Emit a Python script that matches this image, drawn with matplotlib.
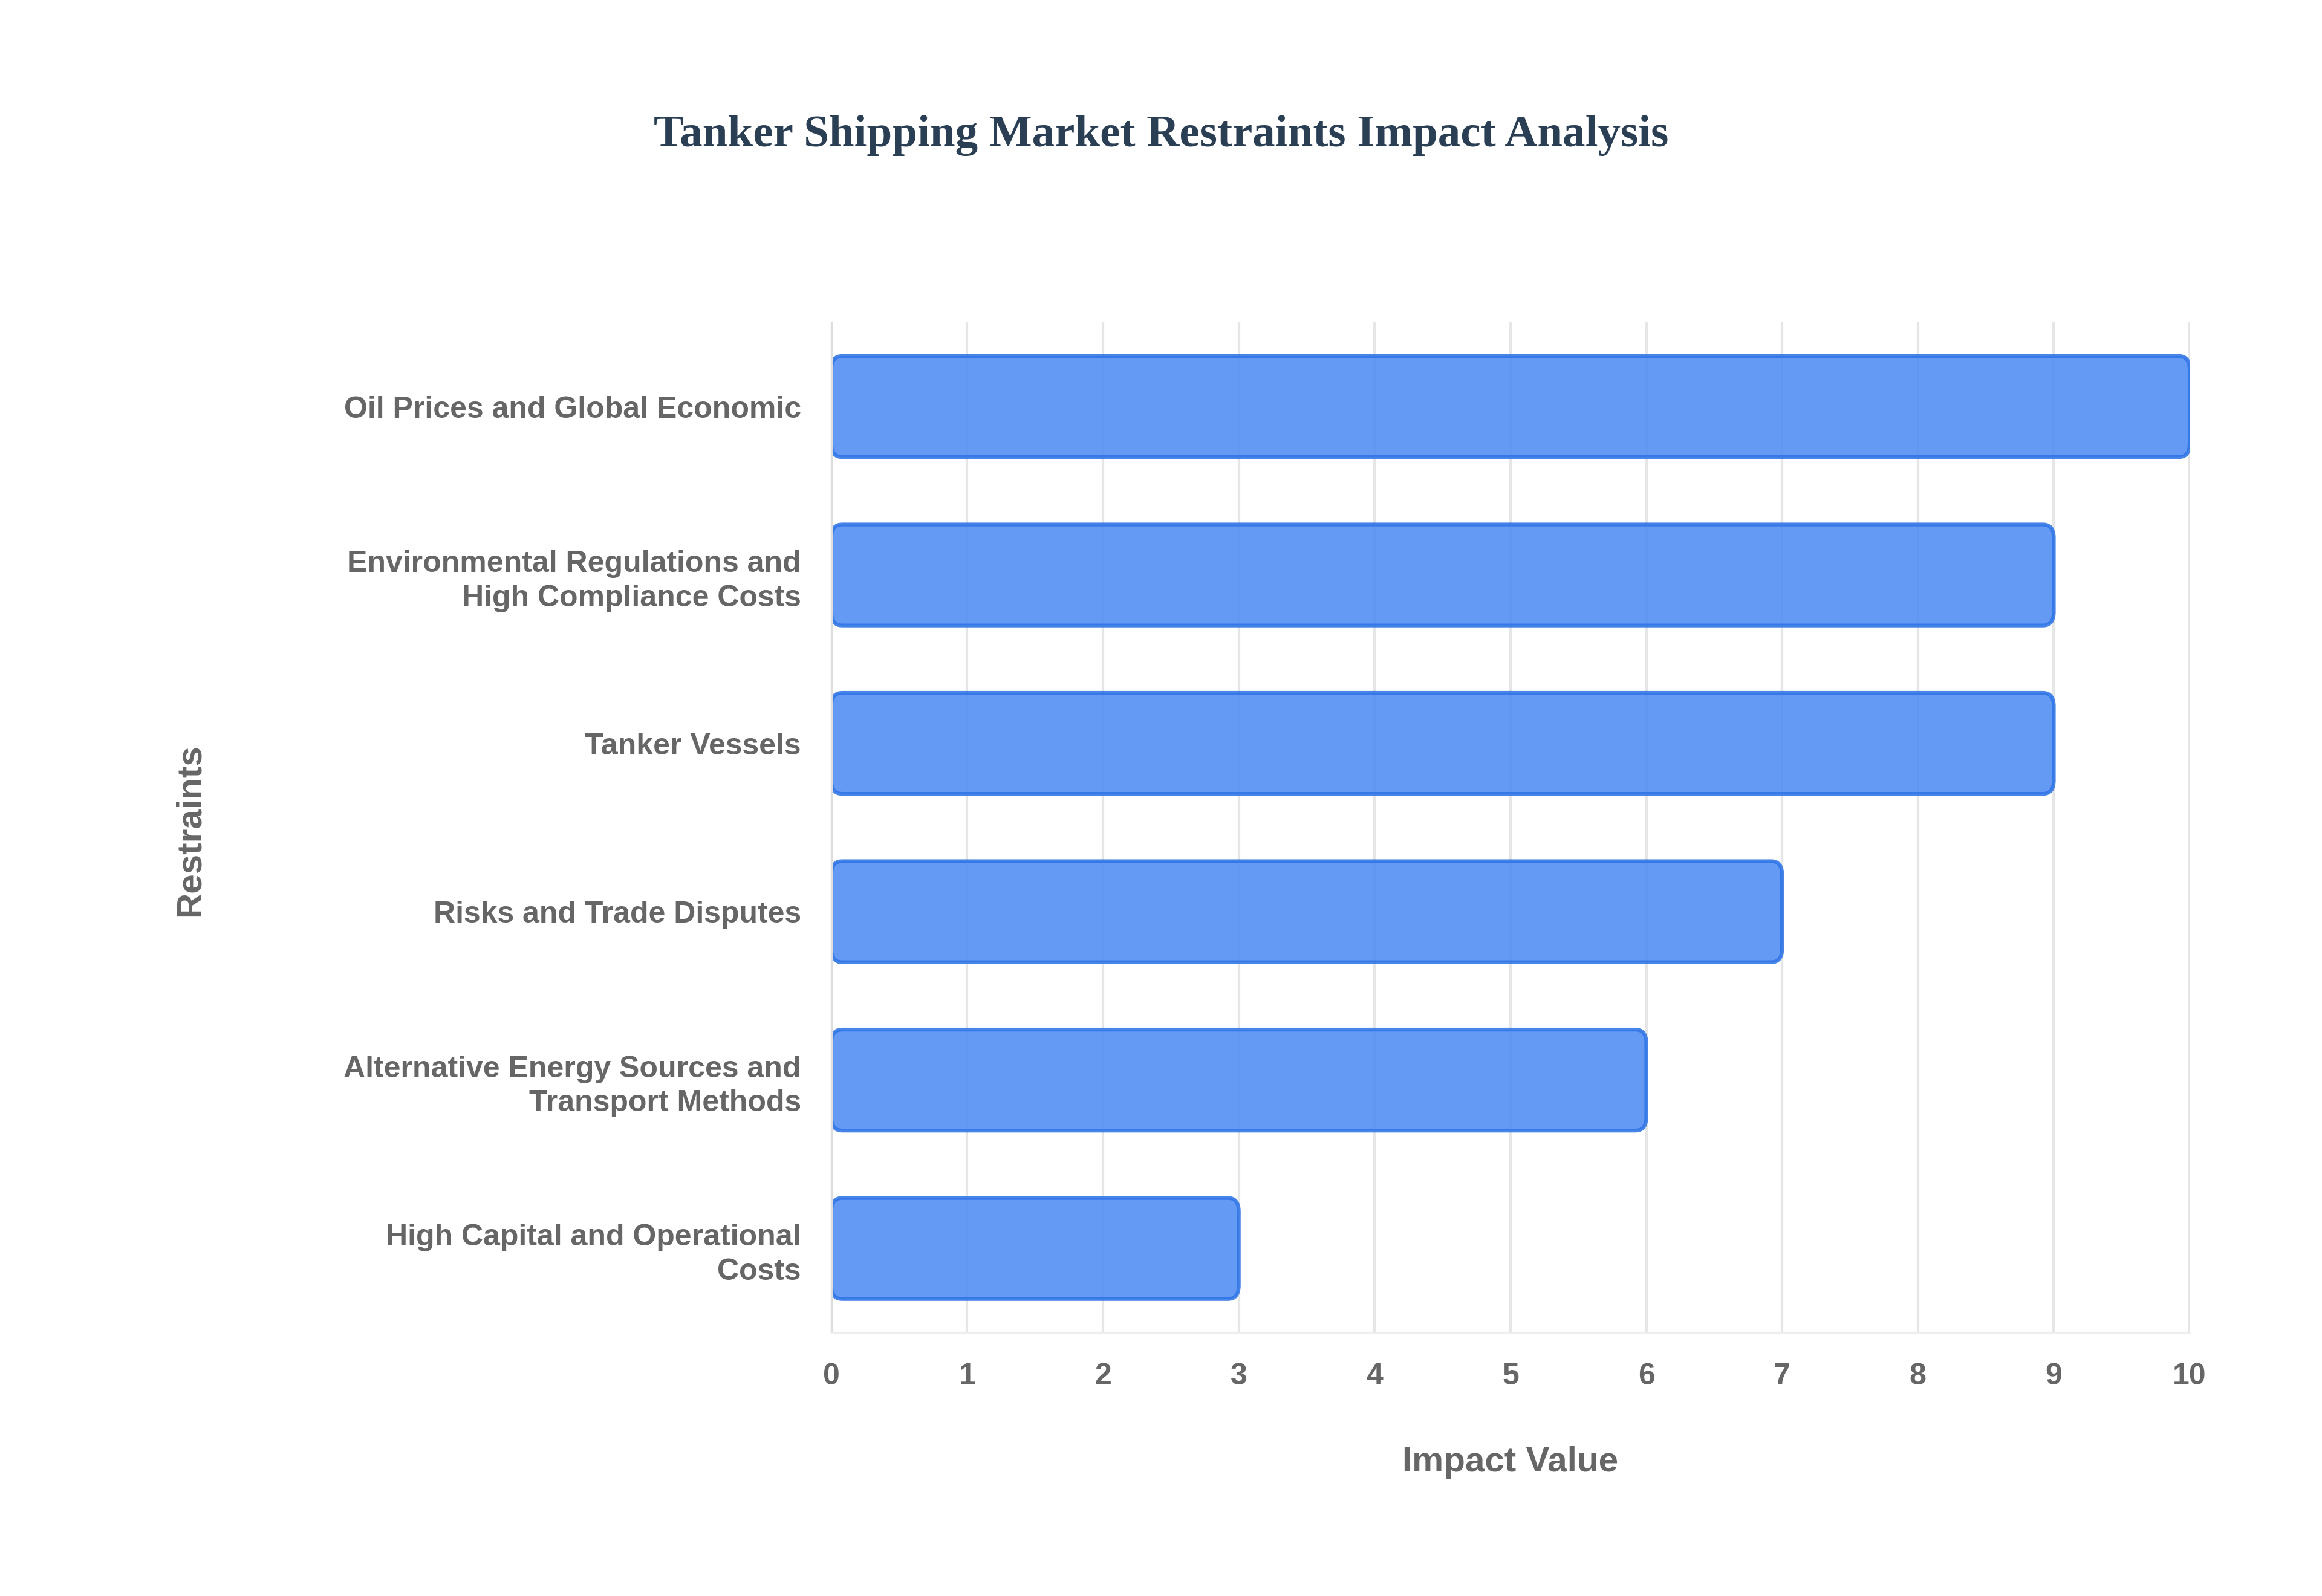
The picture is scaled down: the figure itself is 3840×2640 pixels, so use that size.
import matplotlib
matplotlib.use("Agg")
import matplotlib.pyplot as plt
from matplotlib.patches import FancyBboxPatch

categories = ["High Capital and Operational\nCosts",
              "Alternative Energy Sources and\nTransport Methods",
              "Risks and Trade Disputes",
              "Tanker Vessels",
              "Environmental Regulations and\nHigh Compliance Costs",
              "Oil Prices and Global Economic"]
values = [3, 6, 7, 9, 9, 10]
ticks = list(range(0, 11))

fig = plt.figure(figsize=(12.8, 8.8), dpi=300)
ax = fig.add_axes([0.358, 0.165, 0.585, 0.633])
bars = ax.barh(range(len(values)), values, height=0.6, color="none", edgecolor="none")
for b in bars:
    x, y, w, h = b.get_x(), b.get_y(), b.get_width(), b.get_height()
    p = FancyBboxPatch((x, y), w, h, boxstyle="round,pad=0,rounding_size=0.08",
                       mutation_aspect=1.0, facecolor="#4f8bf3", alpha=0.88,
                       edgecolor="#2f74e6", linewidth=1.5)
    ax.add_patch(p)
ax.set_xlim(0, 10)
ax.set_ylim(-0.5, 5.5)
ax.set_yticks(range(len(categories)))
ax.set_yticklabels(categories, fontsize=12, fontweight="bold", color="#666666",
                   family="Liberation Sans", linespacing=1.3)
ax.set_xticks(ticks)
ax.set_xticklabels([str(t) for t in ticks], fontsize=12, fontweight="bold",
                   color="#666666", family="Liberation Sans")
ax.tick_params(axis="both", length=0, pad=12)
ax.grid(axis="x", color="#e6e6e6", linewidth=1)
ax.set_axisbelow(True)
for s in ["top", "right"]:
    ax.spines[s].set_visible(False)
ax.spines["left"].set_color("#dddddd")
ax.spines["bottom"].set_color("#eeeeee")
ax.set_xlabel("Impact Value", fontsize=14, fontweight="bold", color="#666666",
              family="Liberation Sans", labelpad=22)
fig.text(0.082, 0.48, "Restraints", rotation=90, ha="center", va="center",
         fontsize=14, fontweight="bold", color="#666666", family="Liberation Sans")
fig.text(0.5, 0.915, "Tanker Shipping Market Restraints Impact Analysis",
         ha="center", va="center", fontsize=18, fontweight="bold",
         color="#2a3f54", family="Liberation Serif")
fig.savefig("out.png", dpi=300, facecolor="white")
